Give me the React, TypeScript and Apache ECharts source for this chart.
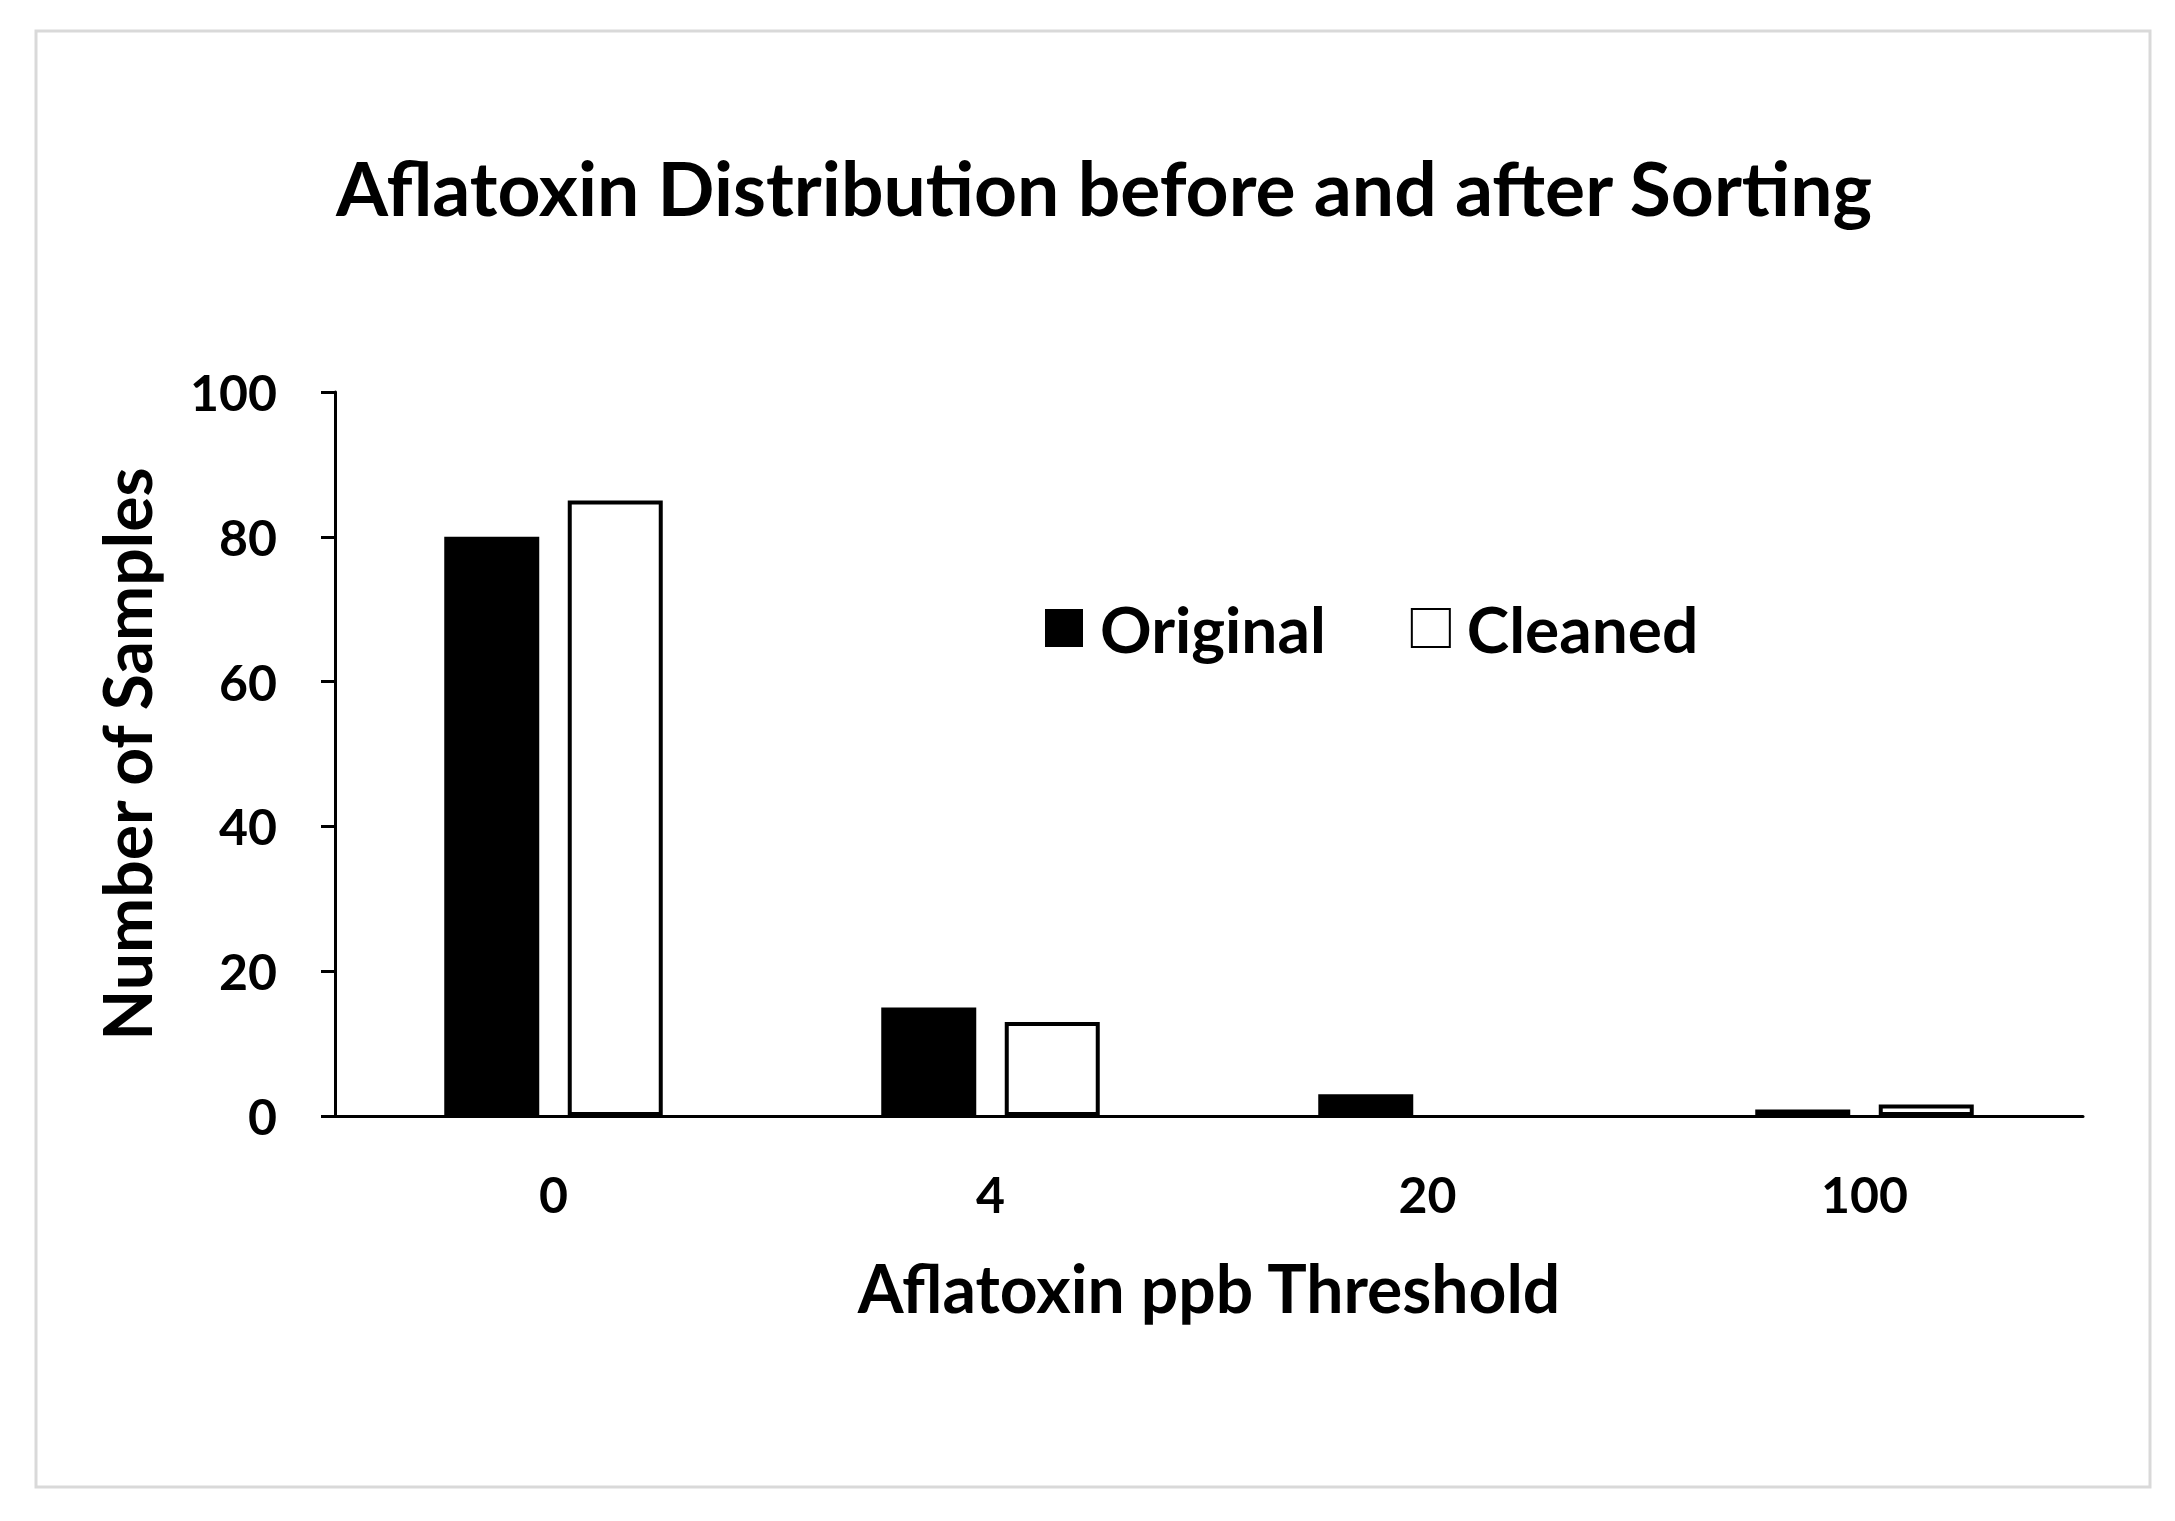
import React, { useEffect, useRef } from "react";
import * as echarts from "echarts";

const categories = ["0", "4", "20", "100"];
const originalValues = [80, 15, 3, 0.9];
const cleanedValues = [85, 13, 0, 1.6];
const yTicks = { min: 0, max: 100, interval: 20 };

const FONT = "Lato";
const WEIGHT = "bold";

export default function App() {
  const ref = useRef<HTMLDivElement>(null);
  useEffect(() => {
    if (!ref.current) return;
    const chart = echarts.init(ref.current, null, { renderer: "svg" });
    chart.setOption({
      animation: false,
      backgroundColor: "#ffffff",
      title: {
        text: "Aflatoxin Distribution before and after Sorting",
        left: 331,
        top: 144,
        textStyle: { fontFamily: FONT, fontWeight: WEIGHT, fontSize: 75, color: "#000" },
      },
      legend: {
        left: 1040,
        top: 591,
        itemWidth: 38,
        itemHeight: 38,
        itemGap: 85,
        icon: "rect",
        textStyle: { fontFamily: FONT, fontWeight: WEIGHT, fontSize: 64, color: "#000", padding: [0, 0, 0, 12] },
        data: ["Original", "Cleaned"],
      },
      grid: { left: 335, right: 92, top: 392, bottom: 405, containLabel: false },
      xAxis: {
        type: "category",
        data: categories,
        name: "Aflatoxin ppb Threshold",
        nameLocation: "middle",
        nameGap: 138,
        nameTextStyle: { fontFamily: FONT, fontWeight: WEIGHT, fontSize: 66, color: "#000" },
        axisLine: { lineStyle: { color: "#000", width: 3 } },
        axisTick: { show: false },
        axisLabel: { fontFamily: FONT, fontWeight: WEIGHT, fontSize: 50, color: "#000", margin: 53 },
      },
      yAxis: {
        type: "value",
        min: yTicks.min,
        max: yTicks.max,
        interval: yTicks.interval,
        name: "Number of Samples",
        nameLocation: "middle",
        nameGap: 176,
        nameTextStyle: { fontFamily: FONT, fontWeight: WEIGHT, fontSize: 66, color: "#000" },
        axisLine: { show: true, lineStyle: { color: "#000", width: 3 } },
        axisTick: { show: true, length: 14, lineStyle: { color: "#000", width: 3 } },
        axisLabel: { fontFamily: FONT, fontWeight: WEIGHT, fontSize: 50, color: "#000", margin: 58 },
        splitLine: { show: false },
      },
      series: [
        {
          name: "Original",
          type: "bar",
          data: originalValues.map((v) => (v === 0 ? "-" : v)),
          barWidth: 95,
          barGap: "30%",
          itemStyle: { color: "#000", borderColor: "#000", borderWidth: 0 },
        },
        {
          name: "Cleaned",
          type: "bar",
          data: cleanedValues.map((v) => (v === 0 ? "-" : v)),
          barWidth: 95,
          itemStyle: { color: "#fff", borderColor: "#000", borderWidth: 4 },
        },
      ],
      graphic: [
        {
          type: "rect",
          shape: { x: 36, y: 31, width: 2114, height: 1456 },
          style: { fill: "none", stroke: "#d9d9d9", lineWidth: 3 },
          silent: true,
        },
      ],
    });
    return () => chart.dispose();
  }, []);
  return (
    <div
      ref={ref}
      style={{ position: "fixed", left: 0, top: 0, width: 2175, height: 1521 }}
    />
  );
}
